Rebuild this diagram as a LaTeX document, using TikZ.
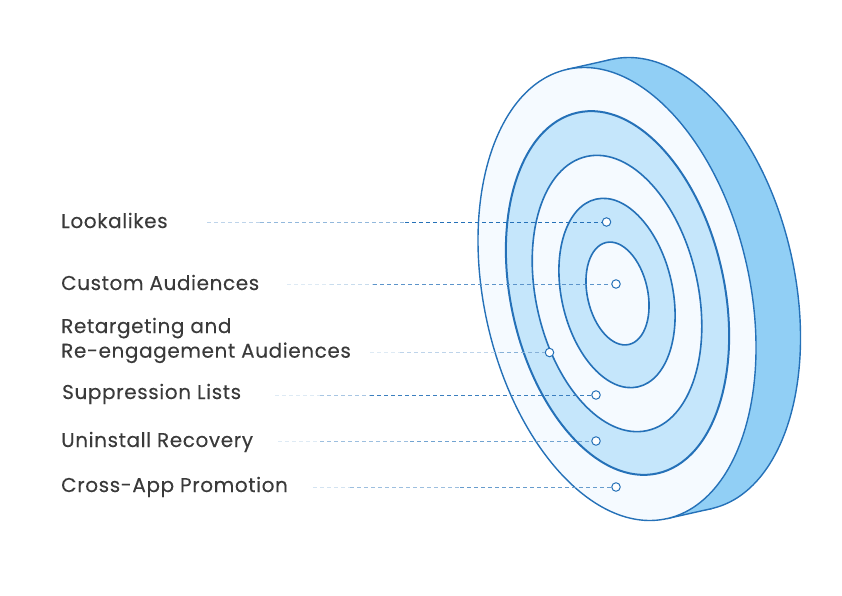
\documentclass[tikz,border=0pt]{standalone}
\usepackage{fontspec}
\setmainfont{Poppins}[LetterSpace=3, FakeBold=0.2]
\definecolor{lineblue}{HTML}{2571B8}
\definecolor{sideblue}{HTML}{91CFF5}
\definecolor{ringblue}{HTML}{C5E6FB}
\definecolor{faceblue}{HTML}{F5FAFF}
\definecolor{labelgrey}{HTML}{3A3A3A}
\tikzset{
	disc/.style={x radius=#1*230.1pt, y radius=#1*132.9pt, rotate=-77.5},
	leader/.style={dash pattern=on 4pt off 3pt, line width=0.9pt},
	marker/.style={draw=lineblue, fill=white, circle, line width=1pt, inner sep=0pt, minimum size=8.5pt},
	audience/.style={font=\fontsize{20}{24.7}\selectfont, text=labelgrey, anchor=base west, inner sep=0pt},
}

\begin{document}
\begin{tikzpicture}[x=1pt, y=-1pt]
	\useasboundingbox (0,0) rectangle (842,596);
	% Side of the disc
	\coordinate (topF) at (566.9,69.4);
	\coordinate (topB) at (611.4,59.4);
	\coordinate (botF) at (667.1,518.6);
	\coordinate (botB) at (711.6,508.6);
	\draw[draw=lineblue, fill=sideblue, line width=1.4pt] (661.5,284) ellipse [disc=1];
	\fill[sideblue] (topF) -- (topB) -- (botB) -- (botF) -- cycle;
	\draw[lineblue, line width=1.4pt] (topF) -- (topB);
	\draw[lineblue, line width=1.4pt] (botF) -- (botB);
	% Rings on the face
	\draw[draw=lineblue, fill=faceblue, line width=1.4pt] (617,294) ellipse [disc=1];
	\draw[draw=lineblue, fill=ringblue, line width=2pt] (617.5,293) ellipse [disc=0.803];
	\draw[draw=lineblue, fill=faceblue, line width=1.6pt] (617,293.5) ellipse [disc=0.61];
	\draw[draw=lineblue, fill=ringblue, line width=1.6pt] (617,293) ellipse [disc=0.418];
	\draw[draw=lineblue, fill=faceblue, line width=1.6pt] (617.5,293.5) ellipse [disc=0.227];
	% Labels
	\node (A) at (61,228) [audience] {Lookalikes};
	\node (B) at (61,290) [audience] {Custom Audiences};
	\node (C) at (61,333) [audience] {Retargeting and};
	\node (D) at (61,357.7) [audience] {Re-engagement Audiences};
	\node (E) at (62,399) [audience] {Suppression Lists};
	\node (F) at (61,447) [audience] {Uninstall Recovery};
	\node (G) at (61,492) [audience] {Cross-App Promotion};
	% Markers and the free ends of the leaders
	\node (mA) at (606.5,222) [marker] {};
	\node (mB) at (616,284) [marker] {};
	\node (mD) at (549.5,352.5) [marker] {};
	\node (mE) at (596,395) [marker] {};
	\node (mF) at (596,441) [marker] {};
	\node (mG) at (616,487) [marker] {};
	\coordinate (sA) at (207,222);
	\coordinate (rA) at (260,222);
	\coordinate (tA) at (405,222);
	\coordinate (sB) at (287,284);
	\coordinate (rB) at (330,284);
	\coordinate (tB) at (373,284);
	\coordinate (sD) at (370,352.5);
	\coordinate (rD) at (400,352.5);
	\coordinate (tD) at (500,352.5);
	\coordinate (sE) at (275,395);
	\coordinate (rE) at (320,395);
	\coordinate (tE) at (370,395);
	\coordinate (sF) at (278,441);
	\coordinate (rF) at (320,441);
	\coordinate (tF) at (410,441);
	\coordinate (sG) at (313,487);
	\coordinate (rG) at (350,487);
	\coordinate (tG) at (460,487);
	% Draw the leaders, pale part first
	\draw[leader, lineblue!30] (sA) -- (rA);
	\draw[leader, lineblue!50] (rA) -- (tA);
	\draw[leader, lineblue] (tA) -- (mA);
	\draw[leader, lineblue!15] (sB) -- (rB);
	\draw[leader, lineblue!25] (rB) -- (tB);
	\draw[leader, lineblue!75] (tB) -- (mB);
	\draw[leader, lineblue!15] (sD) -- (rD);
	\draw[leader, lineblue!30] (rD) -- (tD);
	\draw[leader, lineblue!55] (tD) -- (mD);
	\draw[leader, lineblue!15] (sE) -- (rE);
	\draw[leader, lineblue!40] (rE) -- (tE);
	\draw[leader, lineblue!90] (tE) -- (mE);
	\draw[leader, lineblue!15] (sF) -- (rF);
	\draw[leader, lineblue!45] (rF) -- (tF);
	\draw[leader, lineblue!65] (tF) -- (mF);
	\draw[leader, lineblue!20] (sG) -- (rG);
	\draw[leader, lineblue!45] (rG) -- (tG);
	\draw[leader, lineblue!70] (tG) -- (mG);
\end{tikzpicture}
\end{document}
